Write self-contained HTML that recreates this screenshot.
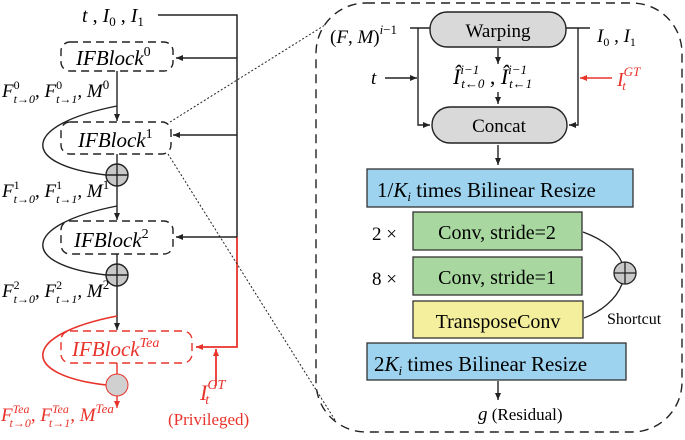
<!DOCTYPE html>
<html><head><meta charset="utf-8"><style>
html,body{margin:0;padding:0;background:#fff;}
svg{display:block;}
text{font-family:"Liberation Serif",serif;}
.it{font-style:italic;}
</style></head><body>
<svg width="685" height="440" viewBox="0 0 685 440" xmlns="http://www.w3.org/2000/svg">
<defs>
<marker id="ab" markerWidth="8" markerHeight="8" refX="7" refY="4" orient="auto" markerUnits="userSpaceOnUse"><path d="M0,1 L7,4 L0,7 z" fill="#222"/></marker>
<marker id="ar" markerWidth="8" markerHeight="8" refX="7" refY="4" orient="auto" markerUnits="userSpaceOnUse"><path d="M0,1 L7,4 L0,7 z" fill="#e8332b"/></marker>
</defs>

<text x="82" y="22" font-size="20"><tspan class="it">t</tspan> , <tspan class="it">I</tspan><tspan font-size="13" dy="4">0</tspan><tspan dy="-4"> , </tspan><tspan class="it">I</tspan><tspan font-size="13" dy="4">1</tspan></text>
<path d="M158,15 H237 V237" stroke="#222" stroke-width="1.5" fill="none"/>
<path d="M237,237 V347 H196" stroke="#e8332b" stroke-width="1.8" fill="none" marker-end="url(#ar)"/>
<line x1="237" y1="58" x2="176" y2="58" stroke="#222" stroke-width="1.5" marker-end="url(#ab)"/>
<line x1="237" y1="135" x2="173" y2="135" stroke="#222" stroke-width="1.5" marker-end="url(#ab)"/>
<line x1="237" y1="237" x2="176" y2="237" stroke="#222" stroke-width="1.5" marker-end="url(#ab)"/>
<line x1="216" y1="385" x2="216" y2="349" stroke="#e8332b" stroke-width="1.8" marker-end="url(#ar)"/>

<g fill="none" stroke="#222" stroke-width="1.4" stroke-dasharray="8,5">
<rect x="61" y="42" width="112" height="29" rx="9"/>
<rect x="61" y="122" width="110" height="32" rx="9"/>
<rect x="61" y="221" width="112" height="33" rx="9"/>
</g>
<rect x="61" y="331" width="131" height="32" rx="9" fill="none" stroke="#e8332b" stroke-width="1.4" stroke-dasharray="8,5"/>
<text x="76" y="65" font-size="21" class="it">IFBlock<tspan font-size="14" dy="-9" font-style="normal">0</tspan></text>
<text x="78" y="147" font-size="21" class="it">IFBlock<tspan font-size="14" dy="-9" font-style="normal">1</tspan></text>
<text x="74" y="247" font-size="21" class="it">IFBlock<tspan font-size="14" dy="-9" font-style="normal">2</tspan></text>
<text x="72" y="356" font-size="21" class="it" fill="#e8332b">IFBlock<tspan font-size="14" dy="-9">Tea</tspan></text>

<g stroke="#222" stroke-width="1.4" fill="none">
<line x1="117" y1="71" x2="117" y2="121" marker-end="url(#ab)"/>
<line x1="117" y1="154" x2="117" y2="220" marker-end="url(#ab)"/>
<line x1="117" y1="254" x2="117" y2="330" marker-end="url(#ab)"/>
<path d="M117,106 C20,125 20,165 106,175"/>
<path d="M117,206 C20,225 20,265 106,275"/>
</g>
<path d="M117,316 C20,335 20,375 106,385" stroke="#e8332b" stroke-width="1.6" fill="none"/>
<line x1="117" y1="363" x2="117" y2="374" stroke="#e8332b" stroke-width="1.4"/>
<line x1="117" y1="396" x2="117" y2="408" stroke="#e8332b" stroke-width="1.4" marker-end="url(#ar)"/>
<g stroke="#222" stroke-width="1.4">
<circle cx="117" cy="175" r="11" fill="#c8c8c8"/><line x1="106" y1="175" x2="128" y2="175"/><line x1="117" y1="164" x2="117" y2="186"/>
<circle cx="117" cy="275" r="11" fill="#c8c8c8"/><line x1="106" y1="275" x2="128" y2="275"/><line x1="117" y1="264" x2="117" y2="286"/>
</g>
<circle cx="117" cy="385" r="11" fill="#d0d0d0" stroke="#e8332b" stroke-width="1"/>

<g font-size="19">
<text x="2" y="97"><tspan class="it">F</tspan><tspan font-size="12" dy="-8">0</tspan><tspan font-size="12" dx="-6" dy="14" class="it">t→0</tspan><tspan dy="-6">, </tspan><tspan class="it">F</tspan><tspan font-size="12" dy="-8">0</tspan><tspan font-size="12" dx="-6" dy="14" class="it">t→1</tspan><tspan dy="-6">, </tspan><tspan class="it">M</tspan><tspan font-size="13" dy="-8">0</tspan></text>
<text x="2" y="197"><tspan class="it">F</tspan><tspan font-size="12" dy="-8">1</tspan><tspan font-size="12" dx="-6" dy="14" class="it">t→0</tspan><tspan dy="-6">, </tspan><tspan class="it">F</tspan><tspan font-size="12" dy="-8">1</tspan><tspan font-size="12" dx="-6" dy="14" class="it">t→1</tspan><tspan dy="-6">, </tspan><tspan class="it">M</tspan><tspan font-size="13" dy="-8">1</tspan></text>
<text x="2" y="297"><tspan class="it">F</tspan><tspan font-size="12" dy="-8">2</tspan><tspan font-size="12" dx="-6" dy="14" class="it">t→0</tspan><tspan dy="-6">, </tspan><tspan class="it">F</tspan><tspan font-size="12" dy="-8">2</tspan><tspan font-size="12" dx="-6" dy="14" class="it">t→1</tspan><tspan dy="-6">, </tspan><tspan class="it">M</tspan><tspan font-size="13" dy="-8">2</tspan></text>
<text x="1" y="421" fill="#e8332b"><tspan class="it">F</tspan><tspan font-size="12" dy="-8" class="it">Tea</tspan><tspan font-size="12" dx="-20" dy="14" class="it">t→0</tspan><tspan dy="-6">, </tspan><tspan class="it">F</tspan><tspan font-size="12" dy="-8" class="it">Tea</tspan><tspan font-size="12" dx="-20" dy="14" class="it">t→1</tspan><tspan dy="-6">, </tspan><tspan class="it">M</tspan><tspan font-size="13" dy="-8" class="it">Tea</tspan></text>
</g>
<text x="200" y="400" font-size="22" fill="#e8332b" class="it">I<tspan font-size="14" dy="-11">GT</tspan><tspan font-size="14" dx="-20" dy="15">t</tspan></text>
<text x="168" y="425" font-size="17" fill="#e8332b">(Privileged)</text>

<line x1="170" y1="122" x2="325" y2="25" stroke="#222" stroke-width="1" stroke-dasharray="2,2"/>
<line x1="168" y1="154" x2="335" y2="420" stroke="#222" stroke-width="1" stroke-dasharray="2,2"/>

<rect x="316" y="3" width="366" height="429" rx="50" fill="none" stroke="#222" stroke-width="1.4" stroke-dasharray="9,6"/>

<rect x="430" y="12" width="136" height="35" rx="17" fill="#d9d9d9" stroke="#222" stroke-width="1.4"/>
<text x="498" y="37" font-size="19" text-anchor="middle">Warping</text>
<rect x="432" y="107" width="135" height="36" rx="18" fill="#d9d9d9" stroke="#222" stroke-width="1.4"/>
<text x="499" y="132" font-size="19" text-anchor="middle">Concat</text>
<text x="330" y="43" font-size="19">(<tspan class="it">F</tspan>, <tspan class="it">M</tspan>)<tspan font-size="13" dy="-9" class="it">i</tspan><tspan font-size="13">−1</tspan></text>
<g stroke="#222" stroke-width="1.4" fill="none">
<path d="M410,28 H430"/>
<path d="M418,28 V125 H430" marker-end="url(#ab)"/>
<path d="M566,28 H590"/>
<path d="M578,28 V125 H569" marker-end="url(#ab)"/>
<line x1="385" y1="78" x2="417" y2="78" marker-end="url(#ab)"/>
<line x1="498" y1="48" x2="498" y2="64" marker-end="url(#ab)"/>
<line x1="498" y1="92" x2="498" y2="104" marker-end="url(#ab)"/>
<line x1="498" y1="145" x2="498" y2="165" marker-end="url(#ab)"/>
<line x1="498" y1="381" x2="498" y2="400" marker-end="url(#ab)"/>
</g>
<text x="371" y="84" font-size="19" class="it">t</text>
<text x="597" y="42" font-size="19" class="it">I<tspan font-size="12" dy="4" font-style="normal">0</tspan><tspan dy="-4" font-style="normal"> , </tspan>I<tspan font-size="12" dy="4" font-style="normal">1</tspan></text>
<line x1="612" y1="78" x2="580" y2="78" stroke="#e8332b" stroke-width="1.4" marker-end="url(#ar)"/>
<text x="617" y="86" font-size="20" fill="#e8332b" class="it">I<tspan font-size="13" dy="-10">GT</tspan><tspan font-size="13" dx="-18" dy="14">t</tspan></text>
<text x="453" y="84" font-size="22" class="it">Î<tspan font-size="13" dy="-10">i−1</tspan><tspan font-size="13" dx="-18" dy="14">t←0</tspan><tspan dy="-4" font-style="normal"> , </tspan>Î<tspan font-size="13" dy="-10">i−1</tspan><tspan font-size="13" dx="-18" dy="14">t←1</tspan></text>

<rect x="367" y="169" width="266" height="38" fill="#9dd3ef" stroke="#333" stroke-width="1.3"/>
<text x="377" y="197" font-size="21">1/<tspan class="it">K</tspan><tspan font-size="13" dy="4" class="it">i</tspan><tspan dy="-4"> times Bilinear Resize</tspan></text>
<text x="372" y="240" font-size="19">2 ×</text>
<rect x="413" y="212" width="169" height="38" fill="#a8d8a0" stroke="#333" stroke-width="1.3"/>
<text x="497" y="239" font-size="20" text-anchor="middle">Conv, stride=2</text>
<text x="372" y="285" font-size="19">8 ×</text>
<rect x="413" y="257" width="169" height="38" fill="#a8d8a0" stroke="#333" stroke-width="1.3"/>
<text x="497" y="284" font-size="20" text-anchor="middle">Conv, stride=1</text>
<rect x="413" y="301" width="170" height="37" fill="#f4ef9c" stroke="#333" stroke-width="1.3"/>
<text x="498" y="328" font-size="20" text-anchor="middle">TransposeConv</text>
<rect x="367" y="343" width="259" height="37" fill="#9dd3ef" stroke="#333" stroke-width="1.3"/>
<text x="374" y="371" font-size="21">2<tspan class="it">K</tspan><tspan font-size="13" dy="4" class="it">i</tspan><tspan dy="-4"> times Bilinear Resize</tspan></text>
<g stroke="#222" stroke-width="1.3" fill="none">
<path d="M583,232 C605,240 618,252 622,263"/>
<path d="M622,284 C616,300 600,312 584,318"/>
</g>
<g stroke="#222" stroke-width="1.3">
<circle cx="625" cy="273" r="11" fill="#c8c8c8"/><line x1="614" y1="273" x2="636" y2="273"/><line x1="625" y1="262" x2="625" y2="284"/>
</g>
<text x="607" y="324" font-size="16">Shortcut</text>
<text x="478" y="420" font-size="17"><tspan class="it" font-size="19">g</tspan> (Residual)</text>
</svg>
</body></html>
